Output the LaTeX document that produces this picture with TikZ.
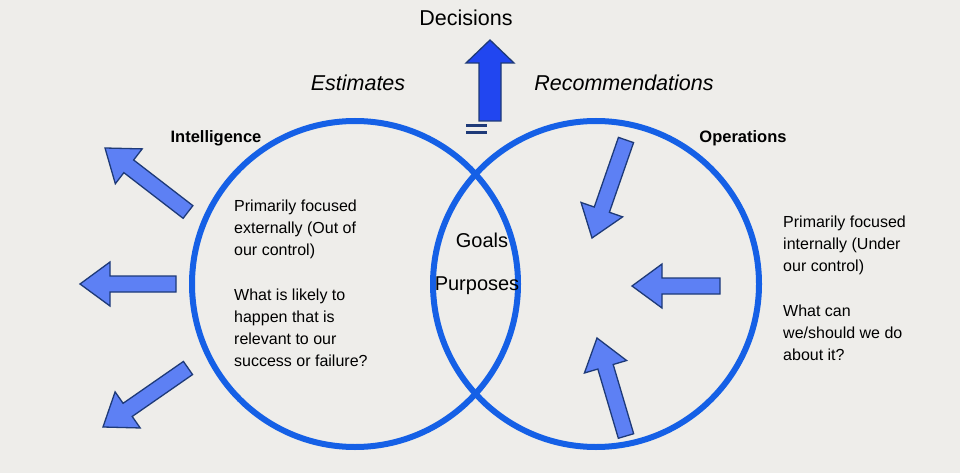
\documentclass[tikz,border=0pt]{standalone}
\usepackage{fontspec}
\setmainfont{Liberation Sans}
\usetikzlibrary{calc}
\definecolor{bg}{HTML}{EEEDEA}
\definecolor{ringc}{HTML}{1560E6}
\definecolor{arrf}{HTML}{5D80F4}
\definecolor{arrd}{HTML}{1E3A78}
\definecolor{upf}{HTML}{2146F0}
\tikzset{
 ring/.style={draw=ringc,line width=6pt},
 fat/.style={fill=arrf,draw=arrd,line width=1.3pt,line join=miter},
 txt/.style={font=\fontsize{16}{22}\selectfont,align=left,anchor=north west,inner sep=0pt},
 big/.style={font=\fontsize{21.5}{24}\selectfont,inner sep=0pt},
 mid/.style={font=\fontsize{20}{22}\selectfont,inner sep=0pt},
 lab/.style={font=\fontsize{16.5}{18}\selectfont\bfseries,inner sep=0pt}
}
\newcommand{\fatarr}[2]{%
 \coordinate (fa) at (#1); \coordinate (fb) at (#2);
 \coordinate (fc) at ($(fb)!30pt!(fa)$);
 \draw[fat] ($(fa)!8pt!90:(fb)$) -- ($(fc)!8pt!-90:(fa)$) -- ($(fc)!22pt!-90:(fa)$) -- (fb)
  -- ($(fc)!22pt!90:(fa)$) -- ($(fc)!8pt!90:(fa)$) -- ($(fa)!8pt!-90:(fb)$) -- cycle;}
\begin{document}
\begin{tikzpicture}[x=1pt,y=-1pt]
\fill[bg] (0,0) rectangle (960,473);
\useasboundingbox (0,0) rectangle (960,473);
\node[ring,circle,minimum size=326pt] (L) at (355,284) {};
\node[ring,circle,minimum size=326pt] (R) at (596,284) {};
% up arrow
\draw[fill=upf,draw=arrd,line width=1.3pt] (479,121)--(479,63)--(466,63)--(490,40)--(514,63)--(501,63)--(501,121)--cycle;
\fill[arrd] (466,124) rectangle (487,127.5);
\fill[arrd] (466,131) rectangle (487,134.5);
\node[big] (dec) at (466,18) {Decisions};
\node[big] (est) at (358,83) {\itshape Estimates};
\node[big] (rec) at (624,83) {\itshape Recommendations};
\node[lab] (int) at (216,138) {Intelligence};
\node[lab] (ops) at (743,138) {Operations};
\fatarr{188,212}{105,148}
\fatarr{176,284}{80,284}
\fatarr{188,368}{103,427}
\fatarr{626,140}{592,238}
\fatarr{720,286}{632,286}
\fatarr{626,436}{597,338}
\node[txt] (lt) at (234,200) {Primarily focused\\externally (Out of\\our control)\\[23pt]What is likely to\\happen that is\\relevant to our\\success or failure?};
\node[txt] (rt) at (783,216) {Primarily focused\\internally (Under\\our control)\\[23pt]What can\\we/should we do\\about it?};
\node[mid] (g) at (482,240) {Goals};
\node[mid] (p) at (477,286) {Purposes};
\end{tikzpicture}
\end{document}
